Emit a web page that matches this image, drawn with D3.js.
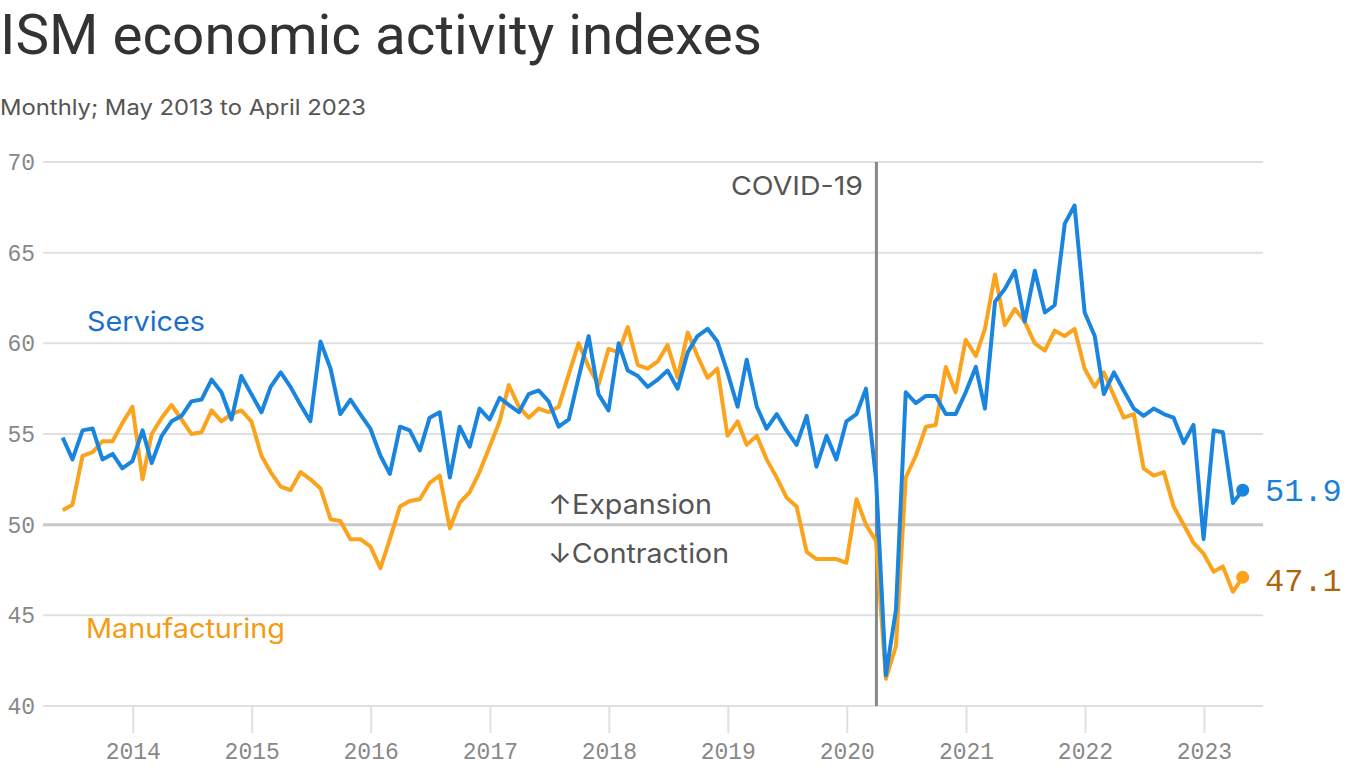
<!DOCTYPE html>
<html>
<head>
<meta charset="utf-8">
<script src="https://cdn.jsdelivr.net/npm/d3@7"></script>
<style>
  html, body { margin: 0; padding: 0; background: #fff; }
  svg { display: block; }
</style>
</head>
<body>
<svg id="chart" width="1366" height="768"></svg>
<script>
// ---- Data (monthly, May 2013 to April 2023) ----
const startMonth = "2013-05";
const services = [
  54.8, 53.6, 55.2, 55.3, 53.6, 53.9, 53.1, 53.5, 55.2, 53.4, 54.9, 55.7, 56.0, 56.8, 56.9, 58.0, 57.3, 55.8, 58.2,
  57.2, 56.2, 57.6, 58.4, 57.6, 56.6, 55.7, 60.1, 58.6, 56.1, 56.9, 56.1, 55.3, 53.8, 52.8, 55.4, 55.2, 54.1, 55.9, 56.2, 52.6, 55.4,
  54.3, 56.4, 55.8, 57.0, 56.6, 56.2, 57.2, 57.4, 56.8, 55.4, 55.8, 58.1, 60.4, 57.2, 56.3, 60.0, 58.5, 58.2, 57.6, 58.0,
  58.5, 57.5, 59.5, 60.4, 60.8, 60.1, 58.4, 56.5, 59.1, 56.5, 55.3, 56.1, 55.2, 54.4, 56.0, 53.2, 54.9, 53.6, 55.7, 56.1, 57.5, 52.5,
  41.7, 45.3, 57.3, 56.7, 57.1, 57.1, 56.1, 56.1, 57.3, 58.7, 56.4, 62.3, 63.0, 64.0, 61.2, 64.0, 61.7, 62.1, 66.6, 67.6, 61.7, 60.4,
  57.2, 58.4, 57.4, 56.4, 56.0, 56.4, 56.1, 55.9, 54.5, 55.5, 49.2, 55.2, 55.1, 51.2, 51.9
];
const manufacturing = [
  50.8, 51.1, 53.8, 54.0, 54.6, 54.6, 55.6, 56.5, 52.5, 55.0, 55.9, 56.6, 55.8, 55.0, 55.1, 56.3, 55.7, 56.1, 56.3,
  55.7, 53.8, 52.9, 52.1, 51.9, 52.9, 52.5, 52.0, 50.3, 50.2, 49.2, 49.2, 48.8, 47.6, 49.2, 51.0, 51.3, 51.4, 52.3, 52.7, 49.8, 51.2,
  51.8, 52.9, 54.3, 55.7, 57.7, 56.5, 55.9, 56.4, 56.2, 56.5, 58.3, 60.0, 58.7, 57.7, 59.7, 59.5, 60.9, 58.8, 58.6, 59.0,
  59.9, 58.1, 60.6, 59.3, 58.1, 58.6, 54.9, 55.7, 54.4, 54.9, 53.6, 52.6, 51.5, 51.0, 48.5, 48.1, 48.1, 48.1, 47.9, 51.4, 50.0, 49.1,
  41.5, 43.3, 52.6, 53.8, 55.4, 55.5, 58.7, 57.3, 60.2, 59.3, 60.8, 63.8, 61.0, 61.9, 61.2, 60.0, 59.6, 60.7, 60.4, 60.8, 58.6, 57.6,
  58.4, 57.1, 55.9, 56.1, 53.1, 52.7, 52.9, 51.0, 50.0, 49.0, 48.4, 47.4, 47.7, 46.3, 47.1
];
const yTicks = [40, 45, 50, 55, 60, 65, 70];
const xTickYears = [2014, 2015, 2016, 2017, 2018, 2019, 2020, 2021, 2022, 2023];
const covidDate = "2020-04-01";
const seriesNames = ["Services", "Manufacturing"];

// ---- Setup ----
const svg = d3.select("#chart");
const parseMonth = d3.timeParse("%Y-%m");
const start = parseMonth(startMonth);
// each value dated at the end of its month
const dates = services.map((_, i) => d3.timeDay.offset(d3.timeMonth.offset(start, i + 1), -1));

const x = d3.scaleTime().domain([dates[0], dates[dates.length - 1]]).range([62.7, 1242.7]);
const y = d3.scaleLinear().domain([40, 70]).range([706, 162]);

const colors = { services: "#1a85df", manufacturing: "#fba31c" };
const monoFont = "'Liberation Mono', 'DejaVu Sans Mono', monospace";
const sansFont = "Roboto, 'Noto Sans', sans-serif";
const labelFont = "Inter, Roboto, sans-serif";

// Title
svg.append("text").attr("x", 0).attr("y", 54)
  .attr("font-family", sansFont).attr("font-size", 56).attr("fill", "#333")
  .attr("textLength", 762).attr("lengthAdjust", "spacingAndGlyphs")
  .text("ISM economic activity indexes");
svg.append("text").attr("x", 0).attr("y", 115)
  .attr("font-family", labelFont).attr("font-size", 21).attr("fill", "#555")
  .attr("textLength", 366).attr("lengthAdjust", "spacingAndGlyphs")
  .text("Monthly; May 2013 to April 2023");

// Gridlines
const grid = svg.append("g");
grid.selectAll("line").data(yTicks).join("line")
  .attr("x1", 43).attr("x2", 1263)
  .attr("y1", d => y(d)).attr("y2", d => y(d))
  .attr("stroke", d => d === 50 ? "#c8c8c8" : "#e0e0e0")
  .attr("stroke-width", d => d === 50 ? 3 : 2);

// Y axis labels
const yAxis = d3.axisLeft(y).tickValues(yTicks).tickSize(0).tickPadding(0);
const gy = svg.append("g").attr("transform", "translate(35,0)").call(yAxis);
gy.select(".domain").remove();
gy.selectAll("text").attr("font-family", monoFont).attr("font-size", 23).attr("fill", "#888");

// X axis
const xAxis = d3.axisBottom(x)
  .tickValues(xTickYears.map(yr => new Date(yr, 0, 1)))
  .tickFormat(d3.timeFormat("%Y")).tickSize(27).tickPadding(10);
const gx = svg.append("g").attr("transform", "translate(0,706)").call(xAxis);
gx.select(".domain").remove();
gx.selectAll(".tick line").attr("stroke", "#e0e0e0").attr("stroke-width", 2);
gx.selectAll("text").attr("font-family", monoFont).attr("font-size", 23).attr("fill", "#888");

// COVID line
const cx = x(d3.timeParse("%Y-%m-%d")(covidDate));
svg.append("line").attr("x1", cx).attr("x2", cx).attr("y1", y(70)).attr("y2", y(40))
  .attr("stroke", "#888").attr("stroke-width", 3);
svg.append("text").attr("x", 731).attr("y", 195)
  .attr("font-family", labelFont).attr("font-size", 26).attr("fill", "#555")
  .attr("textLength", 132).attr("lengthAdjust", "spacingAndGlyphs")
  .text("COVID-19");

// Expansion/Contraction
svg.append("text").attr("x", 548).attr("y", y(50) - 11)
  .attr("font-family", labelFont).attr("font-size", 27).attr("fill", "#555")
  .attr("textLength", 164).attr("lengthAdjust", "spacingAndGlyphs")
  .text("\u2191Expansion");
svg.append("text").attr("x", 548).attr("y", y(50) + 38)
  .attr("font-family", labelFont).attr("font-size", 27).attr("fill", "#555")
  .attr("textLength", 181).attr("lengthAdjust", "spacingAndGlyphs")
  .text("\u2193Contraction");

// Lines
const line = d3.line().x((d, i) => x(dates[i])).y(d => y(d)).curve(d3.curveLinear);
svg.append("path").datum(manufacturing).attr("d", line)
  .attr("fill", "none").attr("stroke", colors.manufacturing).attr("stroke-width", 4)
  .attr("stroke-linejoin", "round");
svg.append("path").datum(services).attr("d", line)
  .attr("fill", "none").attr("stroke", colors.services).attr("stroke-width", 4)
  .attr("stroke-linejoin", "round");

// End dots and labels
const last = services.length - 1;
const ends = [
  { v: services[last], c: colors.services, tc: "#1a7fd8", dy: 0 },
  { v: manufacturing[last], c: colors.manufacturing, tc: "#b0640a", dy: 3 }
];
ends.forEach(e => {
  svg.append("circle").attr("cx", x(dates[last])).attr("cy", y(e.v)).attr("r", 6.5).attr("fill", e.c);
  svg.append("text").attr("x", 1265).attr("y", y(e.v) + e.dy).attr("dy", "0.35em")
    .attr("font-family", monoFont).attr("font-size", 32).attr("fill", e.tc)
    .text(d3.format(".1f")(e.v));
});

// Series labels
svg.append("text").attr("x", 87).attr("y", 331)
  .attr("font-family", labelFont).attr("font-size", 27).attr("fill", "#1a6fcc")
  .attr("textLength", 118).attr("lengthAdjust", "spacingAndGlyphs")
  .text(seriesNames[0]);
svg.append("text").attr("x", 86).attr("y", 638)
  .attr("font-family", labelFont).attr("font-size", 27).attr("fill", "#f39c12")
  .attr("textLength", 199).attr("lengthAdjust", "spacingAndGlyphs")
  .text(seriesNames[1]);
</script>
</body>
</html>
